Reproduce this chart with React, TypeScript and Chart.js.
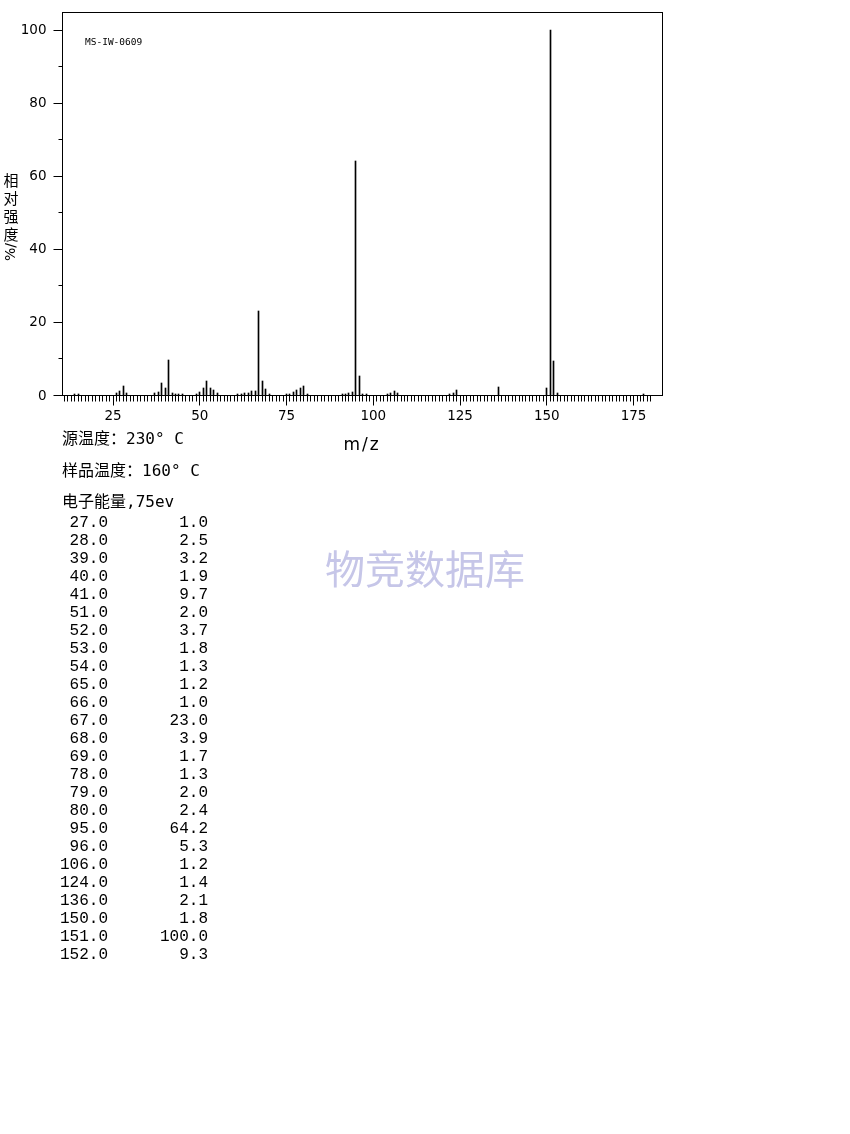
import React, { useEffect, useRef } from "react";
import { Chart, registerables } from "chart.js";

Chart.register(...registerables);

// Listed peaks (m/z, relative intensity %)
const peakMz = [27, 28, 39, 40, 41, 51, 52, 53, 54, 65, 66, 67, 68, 69, 78, 79, 80, 95, 96, 106, 124, 136, 150, 151, 152];
const peakIntensity = [1.0, 2.5, 3.2, 1.9, 9.7, 2.0, 3.7, 1.8, 1.3, 1.2, 1.0, 23.0, 3.9, 1.7, 1.3, 2.0, 2.4, 64.2, 5.3, 1.2, 1.4, 2.1, 1.8, 100.0, 9.3];

// Small unlisted peaks
const minorMz = [14, 15, 26, 29, 37, 38, 42, 43, 44, 45, 49, 50, 55, 61, 62, 63, 64, 70, 75, 76, 77, 81, 91, 92, 93, 94, 97, 98, 104, 105, 107, 122, 123, 153, 178];
const minorIntensity = [0.3, 0.4, 0.6, 0.5, 0.5, 0.8, 0.6, 0.4, 0.3, 0.3, 0.3, 0.9, 0.6, 0.3, 0.4, 0.5, 0.6, 0.4, 0.3, 0.4, 0.8, 0.4, 0.3, 0.4, 0.5, 0.8, 0.4, 0.2, 0.3, 0.6, 0.5, 0.3, 0.5, 0.5, 0.3];

const xTickLabels = [25, 50, 75, 100, 125, 150, 175];
const yTickLabels = [0, 20, 40, 60, 80, 100];
const yMinorTicks = [10, 30, 50, 70, 90];
const xMin = 10.3;
const xMax = 183.2;
const xTickFirst = 11;
const xTickLast = 180;
const yMax = 104.9;

const tableMz = ["27.0", "28.0", "39.0", "40.0", "41.0", "51.0", "52.0", "53.0", "54.0", "65.0", "66.0", "67.0", "68.0", "69.0", "78.0", "79.0", "80.0", "95.0", "96.0", "106.0", "124.0", "136.0", "150.0", "151.0", "152.0"];
const tableIntensity = ["1.0", "2.5", "3.2", "1.9", "9.7", "2.0", "3.7", "1.8", "1.3", "1.2", "1.0", "23.0", "3.9", "1.7", "1.3", "2.0", "2.4", "64.2", "5.3", "1.2", "1.4", "2.1", "1.8", "100.0", "9.3"];

const infoLines = ["源温度：230° C", "样品温度：160° C", "电子能量,75ev"];
const sampleId = "MS-IW-0609";
const xTitle = "m/z";
const yTitleChars = ["相", "对", "强", "度"];
const yTitleTail = "%/";
const watermark = "物竞数据库";

const snapPlugin = {
  id: "snapBars",
  beforeDatasetsDraw(chart: any) {
    chart.getSortedVisibleDatasetMetas().forEach((meta: any) => {
      meta.data.forEach((el: any) => {
        el.x = Math.round(el.x - 0.5) + 0.5;
        el.y = Math.round(el.y);
      });
    });
  },
};

const axesPlugin = {
  id: "msAxes",
  afterDatasetsDraw(chart: any) {
    const ctx = chart.ctx as CanvasRenderingContext2D;
    const xs = chart.scales.x;
    const ys = chart.scales.y;
    const ca = chart.chartArea;
    ctx.save();
    ctx.strokeStyle = "#000";
    ctx.fillStyle = "#000";
    ctx.lineWidth = 1;
    // frame
    ctx.strokeRect(Math.round(ca.left) + 0.5, Math.round(ca.top) + 0.5, Math.round(ca.right - ca.left), Math.round(ca.bottom - ca.top));
    const base = Math.round(ca.bottom) + 0.5;
    // x ticks
    ctx.beginPath();
    for (let v = xTickFirst; v <= xTickLast; v++) {
      const px = Math.round(xs.getPixelForValue(v) - 0.5) + 0.5;
      const len = v % 25 === 0 ? 10 : 6;
      ctx.moveTo(px, base);
      ctx.lineTo(px, base + len);
    }
    // y ticks
    const left = Math.round(ca.left) + 0.5;
    for (const v of yTickLabels) {
      const py = Math.round(ys.getPixelForValue(v)) + 0.5;
      ctx.moveTo(left, py);
      ctx.lineTo(left - 9, py);
    }
    for (const v of yMinorTicks) {
      const py = Math.round(ys.getPixelForValue(v)) + 0.5;
      ctx.moveTo(left, py);
      ctx.lineTo(left - 4, py);
    }
    ctx.stroke();
    // tick labels
    ctx.font = "13.5px 'DejaVu Sans'";
    ctx.textAlign = "center";
    ctx.textBaseline = "middle";
    for (const v of xTickLabels) {
      ctx.fillText(String(v), xs.getPixelForValue(v), base + 21);
    }
    ctx.textAlign = "right";
    for (const v of yTickLabels) {
      ctx.fillText(String(v), left - 16, ys.getPixelForValue(v) + 1);
    }
    // x title
    ctx.font = "17px 'DejaVu Sans'";
    ctx.textAlign = "center";
    (ctx as any).letterSpacing = "2px";
    ctx.fillText(xTitle, (ca.left + ca.right) / 2, base + 50);
    (ctx as any).letterSpacing = "0px";
    // y title
    ctx.font = "15px 'Noto Sans CJK SC'";
    ctx.textAlign = "center";
    yTitleChars.forEach((c, i) => {
      ctx.fillText(c, 11, 180 + i * 18);
    });
    ctx.save();
    ctx.translate(11, 252);
    ctx.rotate(-Math.PI / 2);
    ctx.font = "14px 'DejaVu Sans'";
    ctx.fillText(yTitleTail, 0, 0);
    ctx.restore();
    // sample id
    ctx.font = "9.5px 'DejaVu Sans Mono'";
    ctx.textAlign = "left";
    ctx.fillText(sampleId, ca.left + 23, ca.top + 31);
    ctx.restore();
  },
};

export default function App() {
  const canvasRef = useRef<HTMLCanvasElement | null>(null);

  useEffect(() => {
    const canvas = canvasRef.current;
    if (!canvas) return;
    const points = [
      ...peakMz.map((m, i) => ({ x: m, y: peakIntensity[i] })),
      ...minorMz.map((m, i) => ({ x: m, y: minorIntensity[i] })),
    ].sort((a, b) => a.x - b.x);
    const chart = new Chart(canvas, {
      type: "bar",
      data: {
        datasets: [
          {
            data: points,
            backgroundColor: "#000",
            borderWidth: 0,
            barThickness: 1,
            grouped: false,
          } as any,
        ],
      },
      options: {
        animation: false,
        responsive: false,
        devicePixelRatio: 1,
        layout: { padding: { left: 62, top: 12, right: 188, bottom: 65 } },
        plugins: { legend: { display: false }, tooltip: { enabled: false } },
        scales: {
          x: { type: "linear", min: xMin, max: xMax, display: false, offset: false },
          y: { type: "linear", min: 0, max: yMax, display: false },
        },
      },
      plugins: [snapPlugin, axesPlugin],
    });
    return () => chart.destroy();
  }, []);

  return (
    <div style={{ position: "absolute", left: 0, top: 0, width: 850, height: 1134, background: "#fff" }}>
      <canvas ref={canvasRef} width={850} height={460} style={{ position: "absolute", left: 0, top: 0, width: 850, height: 460 }} />
      {infoLines.map((t, i) => (
        <div
          key={t}
          style={{
            position: "absolute",
            left: 62,
            top: 430 + i * 31.5,
            fontFamily: "'DejaVu Sans Mono', 'Noto Sans CJK SC'",
            fontSize: 16,
            lineHeight: "18px",
            whiteSpace: "pre",
            color: "#000",
          }}
        >
          {t}
        </div>
      ))}
      {tableMz.map((m, i) => (
        <div
          key={m}
          style={{
            position: "absolute",
            left: 0,
            top: 514 + i * 18,
            height: 18,
            width: 220,
            fontFamily: "'Liberation Mono'",
            fontSize: 16,
            lineHeight: "18px",
            color: "#000",
          }}
        >
          <span style={{ position: "absolute", right: 220 - 108, whiteSpace: "pre" }}>{m}</span>
          <span style={{ position: "absolute", right: 220 - 208, whiteSpace: "pre" }}>{tableIntensity[i]}</span>
        </div>
      ))}
      <div
        style={{
          position: "absolute",
          left: 0,
          width: 850,
          top: 546,
          textAlign: "center",
          fontFamily: "'Noto Sans CJK SC'",
          fontSize: 40,
          lineHeight: "42px",
          color: "#c6c6e8",
        }}
      >
        {watermark}
      </div>
    </div>
  );
}
